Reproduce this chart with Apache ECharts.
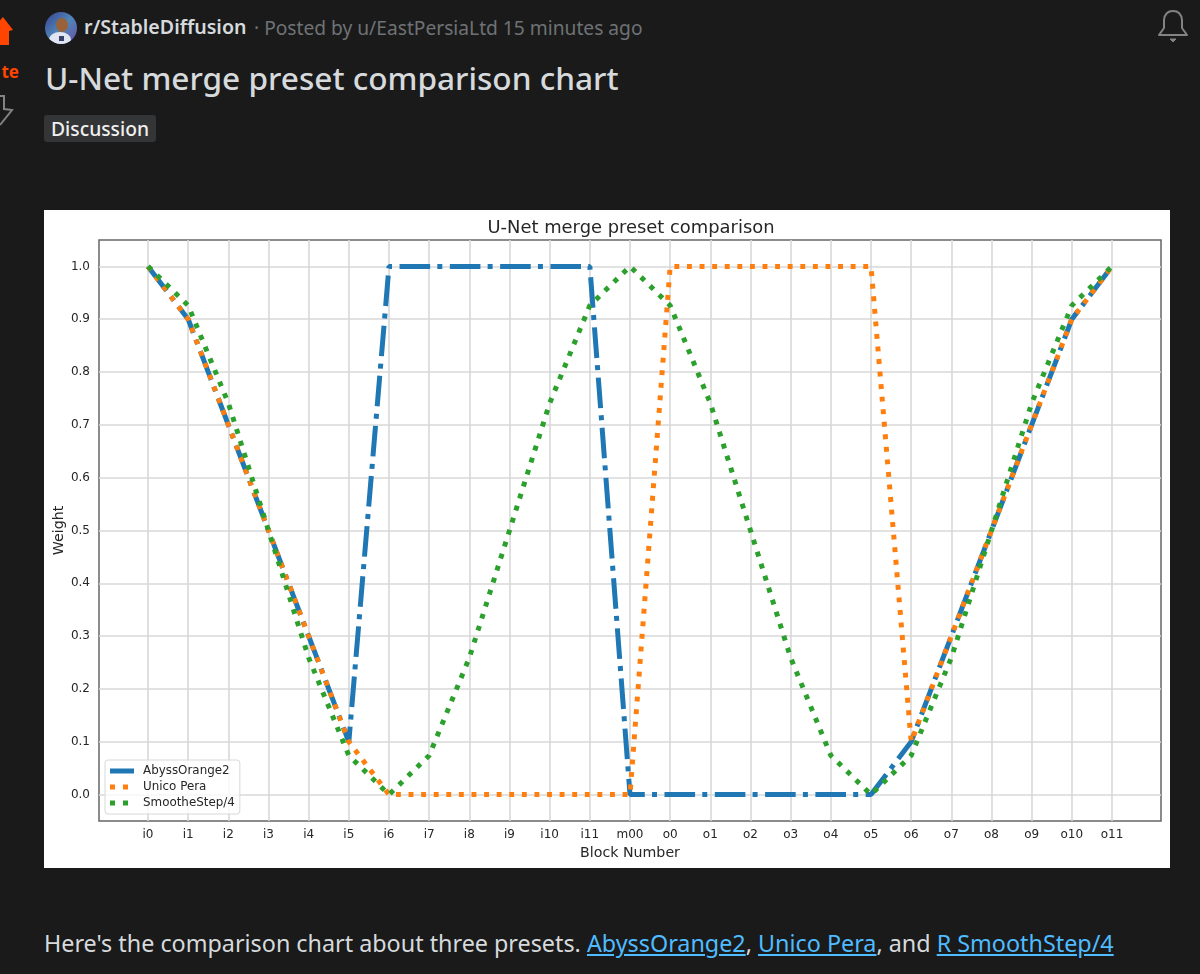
<!DOCTYPE html>
<html>
<head>
<meta charset="utf-8">
<script src="https://cdn.jsdelivr.net/npm/echarts@6/dist/echarts.min.js"></script>
<style>
  html, body { margin: 0; padding: 0; width: 1200px; height: 974px; overflow: hidden; background: #1a1a1b; }
  .t { position: absolute; white-space: nowrap; }
  #grafica { position: absolute; left: 44px; top: 210px; width: 1126px; height: 658px; background: #fff; }
  a { color: #4fbcff; text-decoration: underline; }
</style>
</head>
<body>
<svg style="position:absolute;left:0;top:0" width="1200" height="130">
  <defs>
    <clipPath id="av"><circle cx="61" cy="28" r="16"/></clipPath>
    <linearGradient id="cielo" x1="0" y1="0" x2="1" y2="1">
      <stop offset="0" stop-color="#3a3f8f"/><stop offset="0.5" stop-color="#4f86b8"/><stop offset="1" stop-color="#6a4fa8"/>
    </linearGradient>
  </defs>
  <path d="M-10 31 L3 17 L13 30 L9 31 L9 45 L-3 45 L-3 31 Z" fill="#ff4500"/>
  <path d="M-2 96 L4 96 L4 109 L12 110 L0 125" fill="none" stroke="#818384" stroke-width="2"/>
  <circle cx="61" cy="28" r="16" fill="url(#cielo)"/>
  <g clip-path="url(#av)">
    <ellipse cx="60" cy="40" rx="11" ry="8" fill="#dfe6f2"/>
    <ellipse cx="62" cy="25" rx="6" ry="7" fill="#9a6238"/>
    <rect x="59" y="36" width="5" height="5" fill="#3a3f6a"/>
  </g>
  <path d="M1159 35 L1164 28 L1164 20 Q1165 11 1173 11 Q1181 11 1182 20 L1182 28 L1187 35 Z" fill="none" stroke="#818384" stroke-width="2" stroke-linejoin="round"/>
  <path d="M1170 39 L1176 39 L1173 42 Z" fill="#818384" stroke="#818384"/>
</svg>
<div class="t" style="left:-8px;top:60px;font:700 17px 'Noto Sans';color:#ff4500;width:27px;text-align:right">te</div>
<div class="t" style="left:84px;top:13px;font:600 19.6px 'Noto Sans';color:#d7dadc">r/StableDiffusion</div>
<div class="t" style="left:254px;top:14px;font:400 19.2px 'Noto Sans';color:#6f7274">· Posted by u/EastPersiaLtd 15 minutes ago</div>
<div class="t" style="left:45px;top:56px;font:500 31.6px 'Noto Sans';color:#d7dadc">U-Net merge preset comparison chart</div>
<div class="t" style="left:44px;top:115px;height:27px;padding:0 7px;background:#343536;border-radius:3px;font:500 19.3px/27px 'Noto Sans';color:#f0f0f0">Discussion</div>
<div id="grafica"></div>
<div class="t" style="left:44px;top:927px;font:400 23.33px 'Noto Sans';color:#d7dadc">Here's the comparison chart about three presets. <a>AbyssOrange2</a>, <a>Unico Pera</a>, and <a>R SmoothStep/4</a></div>
<script>
// bloques de la U-Net
var bloques = ['i0','i1','i2','i3','i4','i5','i6','i7','i8','i9','i10','i11','m00','o0','o1','o2','o3','o4','o5','o6','o7','o8','o9','o10','o11'];
var abyssOrange2 = [1,0.9,0.7,0.5,0.3,0.1,1,1,1,1,1,1,0,0,0,0,0,0,0,0.1,0.3,0.5,0.7,0.9,1];
var unicoPera = [1,0.9,0.7,0.5,0.3,0.1,0,0,0,0,0,0,0,1,1,1,1,1,1,0.1,0.3,0.5,0.7,0.9,1];
var smootheStep = [1,0.926,0.741,0.5,0.259,0.074,0,0.074,0.259,0.5,0.741,0.926,1,0.926,0.741,0.5,0.259,0.074,0,0.074,0.259,0.5,0.741,0.926,1];
var pesos = [0,0.1,0.2,0.3,0.4,0.5,0.6,0.7,0.8,0.9,1];

function puntos(valores) {
  return valores.map(function (v, i) { return [i, v]; });
}

var posiciones = bloques.map(function (b, i) { return i; });
var lineaGrid = { show: true, lineStyle: { color: '#d8d8d8', width: 1.6 } };
var texto = { color: '#262626', fontFamily: 'DejaVu Sans', fontSize: 12 };
var textoNombre = { color: '#262626', fontFamily: 'DejaVu Sans', fontSize: 14.2 };

function serie(nombre, valores, color, dash, ancho) {
  return {
    name: nombre,
    type: 'line',
    data: puntos(valores),
    symbol: 'none',
    silent: true,
    animation: false,
    lineStyle: { color: color, width: ancho, type: dash, cap: 'butt' },
    itemStyle: { color: color }
  };
}

var myChart = echarts.init(document.getElementById('grafica'));
var option = {
  backgroundColor: '#fff',
  animation: false,
  title: {
    text: 'U-Net merge preset comparison',
    left: 582, top: 4,
    textAlign: 'center',
    textStyle: { color: '#262626', fontFamily: 'DejaVu Sans', fontSize: 17.9, fontWeight: 'normal' }
  },
  grid: { left: 55, right: 9, top: 30, bottom: 47, outerBoundsMode: 'none', show: true, borderColor: '#666', borderWidth: 1.5, backgroundColor: 'transparent' },
  legend: {
    left: 61, top: 550,
    orient: 'vertical',
    padding: [5, 5, 5, 5],
    itemGap: 4,
    itemWidth: 24,
    itemHeight: 5,
    borderColor: '#d8d8d8', borderWidth: 1, borderRadius: 3,
    backgroundColor: 'rgba(255,255,255,0.8)',
    textStyle: { color: '#262626', fontFamily: 'DejaVu Sans', fontSize: 11.9, padding: [0, 0, 0, 4] },
    data: [
      { name: 'AbyssOrange2', icon: 'rect' },
      { name: 'Unico Pera', icon: 'path://M0 0h5v5h-5zM13 0h5v5h-5zM24 0v5z' },
      { name: 'SmootheStep/4', icon: 'path://M0 0h5v5h-5zM13 0h5v5h-5zM24 0v5z' }
    ]
  },
  xAxis: {
    type: 'value',
    name: 'Block Number',
    nameLocation: 'middle',
    nameGap: 25,
    nameTextStyle: textoNombre,
    min: -1.22, max: 25.22,
    axisLine: { show: false },
    axisTick: { show: false, customValues: posiciones },
    axisLabel: Object.assign({ customValues: posiciones, margin: 8, formatter: function (v) { return bloques[v]; } }, texto),
    splitLine: lineaGrid
  },
  yAxis: {
    type: 'value',
    name: 'Weight',
    nameLocation: 'middle',
    nameGap: 33,
    nameMoveOverlap: false,
    nameTextStyle: textoNombre,
    min: -0.05, max: 1.05,
    axisLine: { show: false },
    axisTick: { show: false, customValues: pesos },
    axisLabel: Object.assign({ customValues: pesos, margin: 9, formatter: function (v) { return v.toFixed(1); } }, texto),
    splitLine: lineaGrid
  },
  series: [
    serie('AbyssOrange2', abyssOrange2, '#1f77b4', [30.6, 7.2, 5, 7.5], 5),
    serie('Unico Pera', unicoPera, '#ff7f0e', [4.9, 7.69], 5),
    serie('SmootheStep/4', smootheStep, '#2ca02c', [4.9, 7.69], 5)
  ]
};
myChart.setOption(option);
</script>
</body>
</html>
